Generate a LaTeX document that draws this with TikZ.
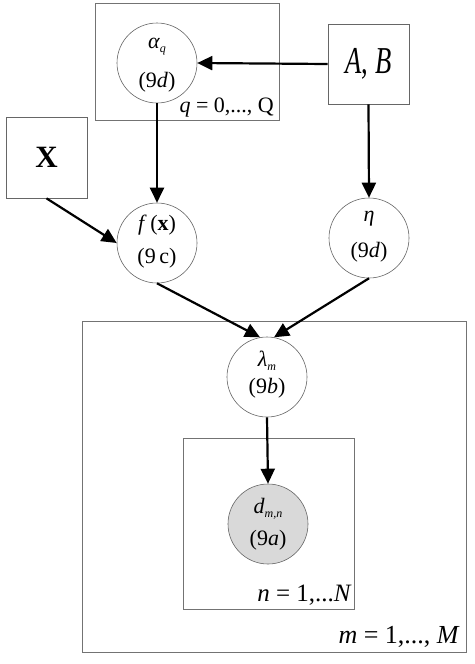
\documentclass[tikz,border=0pt]{standalone}
\usepackage{fontspec}
\setmainfont{Liberation Serif}
\usetikzlibrary{arrows.meta}
\newcommand\mysub[1]{\raisebox{-0.4ex}{\fontsize{12}{12}\selectfont\itshape #1}}
\begin{document}
\begin{tikzpicture}[x=1pt,y=-1pt,
 plate/.style={draw=black!55, line width=0.8pt, minimum width=#1, inner sep=0pt},
 var/.style={circle, draw=black!60, line width=0.6pt, minimum size=80pt, inner sep=0pt, fill=white},
 obs/.style={var, fill=black!15},
 cbox/.style={draw=black!60, line width=0.7pt, inner sep=0pt},
 edge/.style={line width=2.2pt, -{Triangle[length=15pt,width=14pt]}},
 ctext/.style={inner sep=0pt, font=\fontsize{22}{22}\selectfont},
 lbl/.style={inner sep=0pt, anchor=base east}]
\useasboundingbox (0,0) rectangle (474,664);
% plates
\node[plate=184pt, minimum height=117pt] (qplate) at (187,61.5) {};
\node[plate=384pt, minimum height=331pt] (mplate) at (274,486.5) {};
\node[plate=171pt, minimum height=171pt] (nplate) at (268.5,523.5) {};
% boxes
\node[cbox, minimum width=81pt, minimum height=80pt] (AB) at (368.5,64) {\fontsize{38}{38}\selectfont\scalebox{0.7}[1]{\textit{A}, \textit{B}}};
\node[cbox, minimum width=81pt, minimum height=81pt] (X) at (46.5,157.5) {\fontsize{31}{31}\selectfont\textbf{X}};
% circles
\node[var] (alpha) at (157,63) {};
\node[var] (f) at (157,243) {};
\node[var] (eta) at (369,238) {};
\node[var] (lambda) at (267,377) {};
\node[obs] (d) at (268,524) {};
% circle texts
\node[ctext] (alphaT) at (157,47) {\textit{α}\mysub{q}};
\node[ctext] (alphaN) at (157,82) {(9\textit{d})};
\node[ctext] (fT) at (157,225) {\textit{f}\,(\textbf{x})};
\node[ctext] (fN) at (157,258) {(9\,c)};
\node[ctext] (etaT) at (369,219) {\textit{η}};
\node[ctext] (etaN) at (369,252) {(9\textit{d})};
\node[ctext] (lambdaT) at (267,361) {\textit{λ}\mysub{m}};
\node[ctext] (lambdaN) at (267,388) {(9\textit{b})};
\node[ctext] (dT) at (268,509) {\textit{d}\mysub{m,n}};
\node[ctext] (dN) at (268,540) {(9\textit{a})};
% plate labels
\node[lbl, font=\fontsize{22}{22}\selectfont] (qlbl) at (274,112) {\textit{q} = 0,..., Q};
\node[lbl, font=\fontsize{25}{25}\selectfont] (nlbl) at (352,601) {\textit{n} = 1,...\textit{N}};
\node[lbl, font=\fontsize{26}{26}\selectfont] (mlbl) at (460,643) {\textit{m} = 1,..., \textit{M}};
% edges
\draw[edge] (AB.west) -- (alpha.east);
\draw[edge] (alpha.south) -- (f.north);
\draw[edge] (AB.south) -- (eta.north);
\draw[edge] (X.south) -- (f.west);
\draw[edge] (f.south) -- (lambda.100);
\draw[edge] (eta.south) -- (lambda.80);
\draw[edge] (lambda.south) -- (d.north);
\end{tikzpicture}
\end{document}
